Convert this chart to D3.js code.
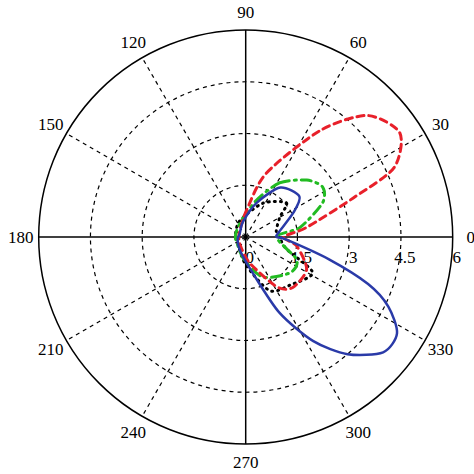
<!DOCTYPE html>
<html><head><meta charset="utf-8">
<script src="https://cdn.jsdelivr.net/npm/d3@7"></script>
<style>body{margin:0;background:#fff} text{font-family:'Liberation Serif','DejaVu Serif',serif;font-size:17px}</style>
</head><body>
<svg id="chart" width="474" height="474"></svg>
<script>
// [angle deg, radius]
var blue = [[0,0.9],[7,0.95],[27,1.55],[37,1.95],[55,1.75],[72,1.05],[100,0.45],[150,0.2],[200,0.25],[250,0.45],[281,1.06],[294,2.4],[303,3.6],[311,4.5],[320,5.2],[327.5,5.2],[334,4.6],[339,3.8],[345,2.5],[356,1.2]];
var red = [[88,0.78],[72,1.95],[55,3.77],[45,4.98],[34,5.39],[25,4.74],[20,3.33],[9,1.79],[0,1.1],[-10,1.5],[-28,2.0],[-47,2.0],[-58,1.7],[-81,0.77],[-120,0.3],[-180,0.2],[-240,0.3]];
var green = [[74,1.1],[58,1.85],[43,2.42],[33,2.66],[24,2.44],[10,1.6],[0,0.9],[-24,1.62],[-39,1.65],[-67,1.26],[-95,0.64],[-150,0.3],[-190,0.3],[-250,0.45]];
var black = [[63,1.1],[40,1.54],[30,1.14],[10,0.9],[-3,1.0],[-17,1.25],[-28,2.2],[-47,1.9],[-66,1.7],[-90,0.8],[-140,0.3],[-190,0.3],[-250,0.5]];
var rings = [1.5, 3, 4.5, 6];
var rTicks = [0, 1.5, 3, 4.5, 6];
var angles = d3.range(0, 360, 30);

var cx = 245.7, cy = 237, R = 207;
var svg = d3.select("#chart");
var g = svg.append("g").attr("transform", "translate(" + cx + "," + cy + ")");
var r = d3.scaleLinear().domain([0, 6]).range([0, R]);

// grid
g.selectAll("circle.ring").data(rings).enter().append("circle")
  .attr("r", function(d) { return r(d); })
  .attr("fill", "none").attr("stroke", "#000")
  .attr("stroke-width", function(d) { return d == 6 ? 1.5 : 1.2; })
  .attr("stroke-dasharray", function(d) { return d == 6 ? null : "4,4"; });

g.selectAll("line.spoke").data(angles).enter().append("line")
  .attr("x1", 0).attr("y1", 0)
  .attr("x2", function(d) { return R * Math.cos(d * Math.PI / 180); })
  .attr("y2", function(d) { return -R * Math.sin(d * Math.PI / 180); })
  .attr("stroke", "#000")
  .attr("stroke-width", function(d) { return d % 90 == 0 ? 1.5 : 1.2; })
  .attr("stroke-dasharray", function(d) { return d % 90 == 0 ? null : "4,4"; });

g.selectAll("text.ang").data(angles).enter().append("text")
  .attr("x", function(d) { return 225 * Math.cos(d * Math.PI / 180); })
  .attr("y", function(d) { return -225 * Math.sin(d * Math.PI / 180); })
  .attr("dy", "0.35em").attr("text-anchor", "middle")
  .text(function(d) { return d; });

g.selectAll("text.rt").data(rTicks).enter().append("text")
  .attr("x", function(d) { return r(d) + 4; })
  .attr("y", 26).attr("text-anchor", "middle")
  .text(function(d) { return d; });

var line = d3.lineRadial()
  .angle(function(d) { return (90 - d[0]) * Math.PI / 180; })
  .radius(function(d) { return r(d[1]); })
  .curve(d3.curveCardinalClosed.tension(0.2));

var series = [
  {data: black, color: "#000", dash: "1,5", w: 3},
  {data: green, color: "#22bb22", dash: "10,5,2,5", w: 3},
  {data: red, color: "#e8202a", dash: "7,5", w: 3},
  {data: blue, color: "#2a3aa8", dash: null, w: 2.5}
];
g.selectAll("path.s").data(series).enter().append("path")
  .attr("d", function(d) { return line(d.data); })
  .attr("fill", "none")
  .attr("stroke", function(d) { return d.color; })
  .attr("stroke-width", function(d) { return d.w; })
  .attr("stroke-linecap", "round")
  .attr("stroke-dasharray", function(d) { return d.dash; });
</script>
</body></html>
